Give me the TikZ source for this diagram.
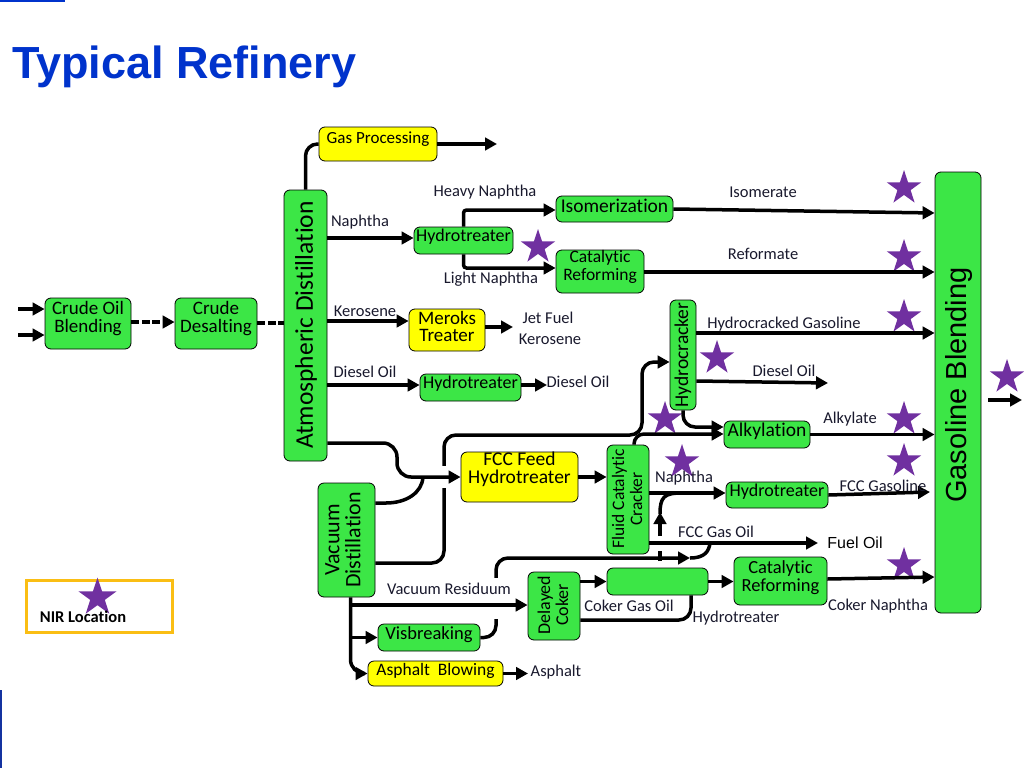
\documentclass[tikz,border=0pt]{standalone}
\usepackage{fontspec}
\setmainfont{Carlito}[Ligatures=NoCommon]
\newfontfamily\arialf{Liberation Sans}
\usetikzlibrary{arrows.meta,shapes.geometric,calc}
\definecolor{grn}{RGB}{60,230,70}
\definecolor{yel}{RGB}{255,255,0}
\definecolor{nirp}{RGB}{112,48,160}
\definecolor{ttl}{RGB}{0,51,204}
\definecolor{dkb}{RGB}{20,50,160}
\definecolor{lgd}{RGB}{250,190,20}
\definecolor{lbltext}{RGB}{25,25,45}
\newcommand\fsz[2]{\fontsize{#1}{#2}\selectfont}
\begin{document}
\begin{tikzpicture}[x=1pt,y=-1pt,
  box/.style={draw=black, line width=0.8pt, rounded corners=6pt, inner sep=0pt},
  gbox/.style={box, fill=grn},
  ybox/.style={box, fill=yel},
  txt/.style={inner sep=0pt, align=center, text=black},
  lbl/.style={inner sep=0pt, font=\fsz{16.5}{17}, text=lbltext},
  ln/.style={line width=3.5pt},
  arr/.style={line width=3.5pt, -{Triangle[length=12pt,width=12.5pt]}},
  dsh/.style={line width=3.5pt, dash pattern=on 8pt off 2.5pt},
  nirstar/.style={star, star points=5, star point ratio=2.6, fill=nirp, draw=none, inner sep=0pt, minimum size=36pt},
  bridge/.style={line width=7pt, white},
]
\useasboundingbox (0,0) rectangle (1024,768);
\fill[white] (0,0) rectangle (1024,768);
% decorations
\draw[ttl, line width=2pt] (0,1) -- (65,1);
\draw[dkb, line width=2pt] (1,690) -- (1,768);
\node[anchor=base west, inner sep=0pt, text=ttl, font=\arialf\bfseries\fsz{45}{45}] (title) at (12,78) {Typical Refinery};

% boxes
\node[gbox, minimum width=86, minimum height=51] (cob) at (88,323.5) {};
\node[txt, font=\fsz{19}{18}] (cobT) at (88,319) {Crude Oil\\Blending};
\node[gbox, minimum width=82, minimum height=51] (cds) at (216,323.5) {};
\node[txt, font=\fsz{19}{18}] (cdsT) at (216,319) {Crude\\Desalting};
\node[gbox, minimum width=43, minimum height=271] (atm) at (305.5,325.5) {};
\node[txt, rotate=90, font=\fsz{25.5}{26}] (atmT) at (306,325) {Atmospheric Distillation};
\node[ybox, minimum width=118, minimum height=34] (gas) at (378,144) {};
\node[txt, font=\fsz{17}{17}] (gasT) at (378,139) {Gas Processing};
\node[gbox, minimum width=99, minimum height=27] (hy1) at (463.5,240.5) {};
\node[txt, font=\fsz{18}{18}] (hy1T) at (463.5,237) {Hydrotreater};
\node[gbox, minimum width=117, minimum height=26] (iso) at (614.5,209) {};
\node[txt, font=\fsz{19.5}{19}] (isoT) at (614.5,206) {Isomerization};
\node[gbox, minimum width=88, minimum height=43] (cr1) at (600,271.5) {};
\node[txt, font=\fsz{17.5}{17.5}] (cr1T) at (600,267) {Catalytic\\Reforming};
\node[ybox, minimum width=76, minimum height=42] (mer) at (447,330) {};
\node[txt, font=\fsz{19}{17}] (merT) at (447,326) {Meroks\\Treater};
\node[gbox, minimum width=101, minimum height=27] (hy2) at (470.5,387.5) {};
\node[txt, font=\fsz{18}{18}] (hy2T) at (470.5,384) {Hydrotreater};
\node[gbox, minimum width=26, minimum height=110] (hcr) at (683,355) {};
\node[txt, rotate=90, font=\fsz{19.5}{19}] (hcrT) at (683,355) {Hydrocracker};
\node[gbox, minimum width=86, minimum height=27] (alk) at (767,434.5) {};
\node[txt, font=\fsz{19.5}{19}] (alkT) at (767,431) {Alkylation};
\node[ybox, minimum width=117, minimum height=50] (ffh) at (519.5,477) {};
\node[txt, font=\fsz{19.5}{18}] (ffhT) at (519.5,469.5) {FCC Feed\\Hydrotreater};
\node[gbox, minimum width=42, minimum height=109] (fcc) at (628,499.5) {};
\node[txt, rotate=90, font=\fsz{17.5}{18}] (fccT) at (627,499) {Fluid Catalytic\\Cracker};
\node[gbox, minimum width=102, minimum height=26] (hy3) at (777,495) {};
\node[txt, font=\fsz{18}{18}] (hy3T) at (777,491.5) {Hydrotreater};
\node[gbox, minimum width=57, minimum height=114] (vac) at (346.5,540) {};
\node[txt, rotate=90, font=\fsz{22}{21}] (vacT) at (343,540) {Vacuum\\Distillation};
\node[gbox, minimum width=52, minimum height=68] (dco) at (554,606) {};
\node[txt, rotate=90, font=\fsz{18}{18}] (dcoT) at (553,605) {Delayed\\Coker};
\node[gbox, minimum width=101, minimum height=27] (hy4) at (657.5,581.5) {};
\node[gbox, minimum width=93, minimum height=48] (cr2) at (780.5,581) {};
\node[txt, font=\fsz{18.5}{18}] (cr2T) at (780.5,578) {Catalytic\\Reforming};
\node[gbox, minimum width=102, minimum height=27] (vis) at (429,637.5) {};
\node[txt, font=\fsz{18.5}{18}] (visT) at (429,634.5) {Visbreaking};
\node[ybox, minimum width=135, minimum height=25] (asp) at (435.5,673.5) {};
\node[txt, font=\fsz{17.5}{17}] (aspT) at (435.5,671) {Asphalt\ \ Blowing};
\node[gbox, minimum width=46, minimum height=441] (gbl) at (958,392.5) {};
\node[txt, rotate=90, font=\arialf\fsz{29}{29}] (gblT) at (959,385) {Gasoline Blending};

% legend
\node[draw=lgd, line width=3pt, minimum width=146, minimum height=52, inner sep=0pt] (leg) at (99,606) {};
\node[nirstar, minimum size=40pt] (legS) at (97.5,597.5) {};
\node[txt, font=\bfseries\fsz{16.5}{16}] (legT) at (83,616.5) {NIR Location};

% stars
\foreach \x/\y [count=\i] in {538/247, 904/188, 904/257, 904/317, 717/358, 1007/377, 665/419, 904/419, 682/462, 904/461, 904/565}
  \node[nirstar] (s\i) at (\x,\y) {};

% connectors drawn under bridges
\draw[arr, rounded corners=12pt] (vac.east |- 0,563) -- (444,563) -- (444,435) -- (642,435) -- (642,362) -- (hcr.west |- 0,362);
\draw[bridge] (444,466) -- (444,488);
\draw[arr, rounded corners=12pt] (vis.east) -- (496,637.5) -- (496,558) -- (690,558);
\draw[bridge] (496,578) -- (496,619);

% main connectors
\coordinate (in1) at (18,309);
\coordinate (in2) at (18,335);
\draw[arr] (in1) -- (cob.west |- in1);
\draw[arr] (in2) -- (cob.west |- in2);
\draw[dsh, -{Triangle[length=12pt,width=12.5pt]}] (cob.east |- 0,322) -- (cds.west |- 0,322);
\draw[dsh] (cds.east |- 0,323) -- (atm.west |- 0,323);
\draw[ln, rounded corners=12pt] (atm.north) |- (gas.west);
\coordinate (gasout) at (497,144);
\draw[arr] (gas.east) -- (gasout);
\draw[arr] (atm.east |- 0,238) -- (hy1.west |- 0,238);
\draw[arr, rounded corners=3pt] (hy1.north) |- (iso.west |- 0,210);
\draw[arr, rounded corners=3pt] (hy1.south) |- (cr1.west |- 0,268);
\draw[arr] (iso.east) -- (gbl.west |- 0,213);
\draw[arr] (cr1.east |- 0,272) -- (gbl.west |- 0,272);
\draw[arr] (atm.east |- 0,321) -- (mer.west |- 0,321);
\coordinate (jet) at (513,327);
\draw[arr] (mer.east |- jet) -- (jet);
\draw[arr] (atm.east |- 0,385) -- (hy2.west |- 0,385);
\coordinate (dsl) at (547,385);
\draw[arr] (hy2.east |- dsl) -- (dsl);
\draw[arr, rounded corners=14pt] (atm.east |- 0,443) -- (397,443) -- (397,477) -- (ffh.west);
\draw[ln] (vac.east |- 0,503) -- (386,503) .. controls (406,503) and (422,493) .. (423,477);
\draw[arr] (ffh.east) -- (fcc.west |- ffh.east);
\draw[arr, rounded corners=10pt] ([xshift=6pt]fcc.north) |- (alk.west |- 0,434);
\draw[arr, rounded corners=12pt] (hcr.south) |- (alk.west |- 0,427);
\draw[arr] (fcc.east |- 0,493) -- (hy3.west |- 0,493);
\coordinate (up0) at (660,561);
\coordinate (up1) at (660,551);
\coordinate (up2) at (660,536);
\coordinate (up3) at (660,512);
\draw[ln] (up0) -- (up1);
\draw[arr] (up2) -- (up3);
\draw[ln] (660,514) .. controls (660,497) and (664,493) .. (682,493);
\coordinate (fuel) at (818,543);
\draw[arr] (fcc.east |- fuel) -- (fuel);
\draw[ln] (690,558) .. controls (705,558) and (709,551) .. (710,543);
\coordinate (fccg) at (930,492);
\draw[arr] (hy3.east) -- (fccg);
\draw[arr] (hcr.east |- 0,333) -- (gbl.west |- 0,333);
\coordinate (dsl2) at (828,383);
\draw[arr] (hcr.east |- 0,381) -- (dsl2);
\draw[arr] (alk.east) -- (gbl.west |- alk.east);
\coordinate (gout) at (1022,400);
\draw[arr] ($(gbl.east |- gout)+(7,0)$) -- (gout);
\coordinate (vb) at ([xshift=4pt]vac.south);
\draw[arr, rounded corners=14pt] (vb) |- (asp.west);
\draw[arr] (vb |- 0,605) -- (dco.west |- 0,605);
\draw[arr] (vb |- vis.west) -- (vis.west);
\coordinate (asph) at (528,673.5);
\draw[arr] (asp.east) -- (asph);
\draw[arr] (dco.east |- hy4.west) -- (hy4.west);
\coordinate (hyb) at ([xshift=33.5pt]hy4.south);
\draw[ln, rounded corners=12pt] (dco.east |- 0,620) -| (hyb);
\draw[arr] (hy4.east) -- (cr2.west |- hy4.east);
\draw[arr] (cr2.east |- 0,579) -- (gbl.west |- 0,577);

% labels
\node[lbl] (lNap) at (360,222) {Naphtha};
\node[lbl] (lHN) at (485,192) {Heavy Naphtha};
\node[lbl] (lLN) at (491,279) {Light Naphtha};
\node[lbl] (lIso) at (763,192) {Isomerate};
\node[lbl] (lRef) at (763,254) {Reformate};
\node[lbl] (lKer) at (365,311) {Kerosene};
\node[lbl] (lJet) at (548,318) {Jet Fuel};
\node[lbl] (lKer2) at (550,339) {Kerosene};
\node[lbl] (lDie) at (365,372) {Diesel Oil};
\node[lbl] (lDie2) at (578,382) {Diesel Oil};
\node[lbl] (lHG) at (784,324) {Hydrocracked Gasoline};
\node[lbl] (lDie3) at (784,371) {Diesel Oil};
\node[lbl] (lAlk) at (850,419) {Alkylate};
\node[lbl] (lNap2) at (684,478) {Naphtha};
\node[lbl] (lFG) at (883,486) {FCC Gasoline};
\node[lbl] (lFGO) at (716,532) {FCC Gas Oil};
\node[inner sep=0pt, font=\arialf\fsz{16}{16}, text=black] (lFuel) at (855,543) {Fuel Oil};
\node[lbl] (lCGO) at (629,606) {Coker Gas Oil};
\node[lbl] (lHyd) at (736,618) {Hydrotreater};
\node[lbl] (lCN) at (878,606) {Coker Naphtha};
\node[lbl] (lVR) at (449,589) {Vacuum Residuum};
\node[lbl] (lAsp) at (556,672) {Asphalt};
\end{tikzpicture}
\end{document}
